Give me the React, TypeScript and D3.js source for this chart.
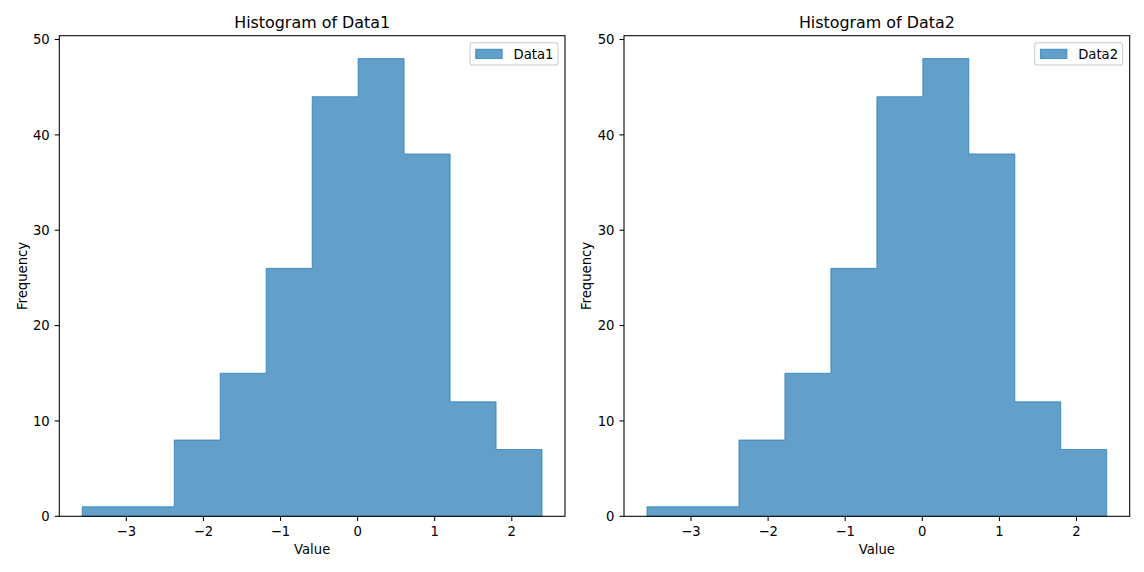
import React, { useEffect, useRef } from 'react';
import * as d3 from 'd3';

// bin edges and counts (both panels show the same histogram)
const binEdges = [-3.571, -2.975, -2.378, -1.782, -1.186, -0.589, 0.007, 0.603, 1.2, 1.796, 2.392];
const data1Counts = [1, 1, 8, 15, 26, 44, 48, 38, 12, 7];
const data2Counts = [1, 1, 8, 15, 26, 44, 48, 38, 12, 7];
const xTicks = [-3, -2, -1, 0, 1, 2];
const yTicks = [0, 10, 20, 30, 40, 50];

const WIDTH = 1144;
const HEIGHT = 572;
const FONT = '"DejaVu Sans", Verdana, sans-serif';
const BAR_COLOR = '#1f77b4';

interface PanelSpec {
  name: string;
  counts: number[];
  left: number;
}

const panels: PanelSpec[] = [
  { name: 'Data1', counts: data1Counts, left: 59.3 },
  { name: 'Data2', counts: data2Counts, left: 624 },
];

const App: React.FC = () => {
  const svgRef = useRef<SVGSVGElement>(null);

  useEffect(() => {
    if (!svgRef.current) return;
    const svg = d3.select(svgRef.current);
    svg.selectAll('*').remove();

    const top = 35.7;
    const plotW = 505.7;
    const plotH = 480.6;

    panels.forEach(p => {
      // matplotlib-style 5% margins on x, y starts at 0
      const lo = d3.min(binEdges)!;
      const hi = d3.max(binEdges)!;
      const pad = (hi - lo) * 0.05;
      const maxCount = d3.max(p.counts)!;

      const x = d3.scaleLinear().domain([lo - pad, hi + pad]).range([0, plotW]);
      const y = d3.scaleLinear().domain([0, maxCount * 1.05]).range([plotH, 0]);

      const g = svg.append('g').attr('transform', `translate(${p.left},${top})`);

      // stepfilled histogram
      const pts: [number, number][] = binEdges.map((e, i) => [e, p.counts[Math.min(i, p.counts.length - 1)]]);
      const area = d3.area<[number, number]>()
        .x(d => x(d[0]))
        .y0(y(0))
        .y1(d => y(d[1]))
        .curve(d3.curveStepAfter);

      g.append('path')
        .attr('d', area(pts)!)
        .attr('fill', BAR_COLOR)
        .attr('fill-opacity', 0.7)
        .attr('stroke', BAR_COLOR)
        .attr('stroke-opacity', 0.7)
        .attr('stroke-width', 1);

      // spines
      g.append('rect')
        .attr('width', plotW)
        .attr('height', plotH)
        .attr('fill', 'none')
        .attr('stroke', '#000')
        .attr('stroke-width', 1.06);

      // x ticks
      const xt = g.append('g');
      xTicks.forEach(t => {
        xt.append('line')
          .attr('x1', x(t)).attr('x2', x(t))
          .attr('y1', plotH).attr('y2', plotH + 4.6)
          .attr('stroke', '#000').attr('stroke-width', 1.06);
        xt.append('text')
          .attr('x', x(t))
          .attr('y', plotH + 19.6)
          .attr('text-anchor', 'middle')
          .style('font-family', FONT)
          .style('font-size', '13.2px')
          .text(d3.format('d')(t));
      });

      // y ticks
      const yt = g.append('g');
      yTicks.forEach(t => {
        yt.append('line')
          .attr('x1', -4.6).attr('x2', 0)
          .attr('y1', y(t)).attr('y2', y(t))
          .attr('stroke', '#000').attr('stroke-width', 1.06);
        yt.append('text')
          .attr('x', -9.6)
          .attr('y', y(t))
          .attr('dy', '0.36em')
          .attr('text-anchor', 'end')
          .style('font-family', FONT)
          .style('font-size', '13.2px')
          .text(t);
      });

      // title
      g.append('text')
        .attr('x', plotW / 2)
        .attr('y', -8)
        .attr('text-anchor', 'middle')
        .style('font-family', FONT)
        .style('font-size', '15.9px')
        .text(`Histogram of ${p.name}`);

      // axis labels
      g.append('text')
        .attr('x', plotW / 2)
        .attr('y', plotH + 37.8)
        .attr('text-anchor', 'middle')
        .style('font-family', FONT)
        .style('font-size', '13.2px')
        .text('Value');

      g.append('text')
        .attr('transform', `translate(-32.8,${plotH / 2}) rotate(-90)`)
        .attr('text-anchor', 'middle')
        .style('font-family', FONT)
        .style('font-size', '13.2px')
        .text('Frequency');

      // legend
      const legW = 88;
      const legH = 22.3;
      const leg = g.append('g').attr('transform', `translate(${plotW - 7 - legW},7)`);
      leg.append('rect')
        .attr('width', legW)
        .attr('height', legH)
        .attr('rx', 2.6)
        .attr('fill', '#fff')
        .attr('fill-opacity', 0.8)
        .attr('stroke', '#cccccc')
        .attr('stroke-width', 1.06);
      leg.append('rect')
        .attr('x', 5.7)
        .attr('y', legH / 2 - 4.6)
        .attr('width', 26.5)
        .attr('height', 9.3)
        .attr('fill', BAR_COLOR)
        .attr('fill-opacity', 0.7)
        .attr('stroke', BAR_COLOR)
        .attr('stroke-opacity', 0.7);
      leg.append('text')
        .attr('x', 43.5)
        .attr('y', legH / 2)
        .attr('dy', '0.36em')
        .style('font-family', FONT)
        .style('font-size', '13.2px')
        .text(p.name);
    });
  }, []);

  return (
    <svg
      ref={svgRef}
      width={WIDTH}
      height={HEIGHT}
      style={{ position: 'absolute', left: 0, top: 0, background: '#fff' }}
    />
  );
};

export default App;
